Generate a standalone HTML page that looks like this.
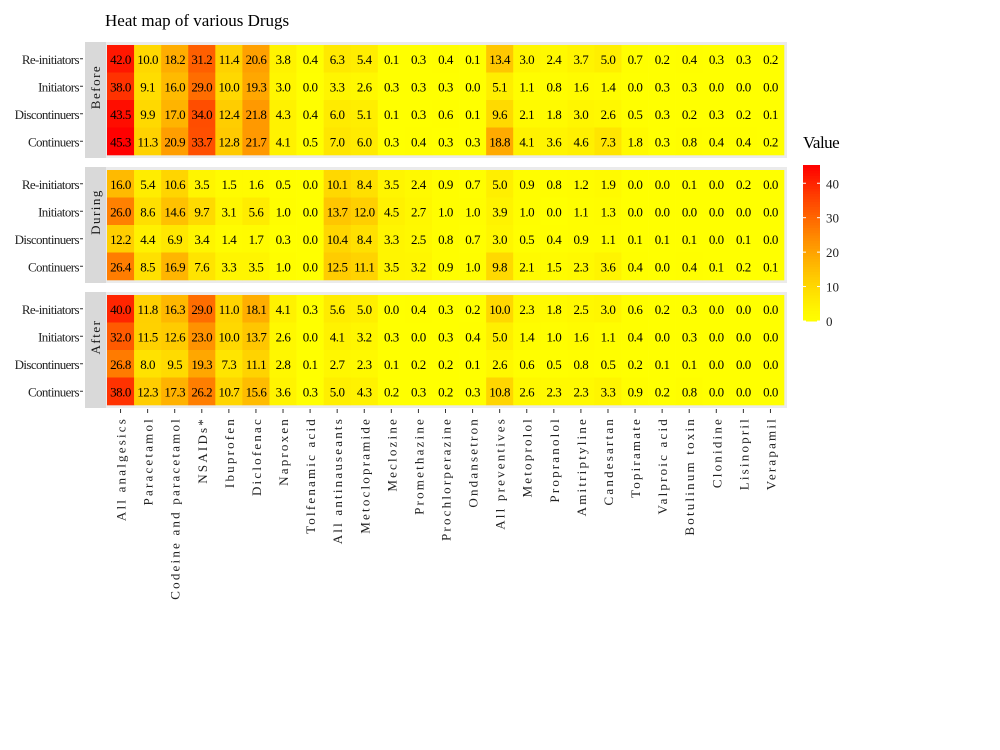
<!DOCTYPE html>
<html><head><meta charset="utf-8"><style>
body{margin:0;background:#fff;}
svg{display:block;font-family:"Liberation Serif","DejaVu Serif",serif;}
</style></head><body>
<svg id="chart" width="1000" height="750"></svg>
<script>
const drugs=["All analgesics","Paracetamol","Codeine and paracetamol","NSAIDs*","Ibuprofen","Diclofenac","Naproxen","Tolfenamic acid","All antinauseants","Metoclopramide","Meclozine","Promethazine","Prochlorperazine","Ondansetron","All preventives","Metoprolol","Propranolol","Amitriptyline","Candesartan","Topiramate","Valproic acid","Botulinum toxin","Clonidine","Lisinopril","Verapamil"];
const groups=["Re-initiators","Initiators","Discontinuers","Continuers"];
const periods=["Before","During","After"];
const before=[
[42.0,10.0,18.2,31.2,11.4,20.6,3.8,0.4,6.3,5.4,0.1,0.3,0.4,0.1,13.4,3.0,2.4,3.7,5.0,0.7,0.2,0.4,0.3,0.3,0.2],
[38.0,9.1,16.0,29.0,10.0,19.3,3.0,0.0,3.3,2.6,0.3,0.3,0.3,0.0,5.1,1.1,0.8,1.6,1.4,0.0,0.3,0.3,0.0,0.0,0.0],
[43.5,9.9,17.0,34.0,12.4,21.8,4.3,0.4,6.0,5.1,0.1,0.3,0.6,0.1,9.6,2.1,1.8,3.0,2.6,0.5,0.3,0.2,0.3,0.2,0.1],
[45.3,11.3,20.9,33.7,12.8,21.7,4.1,0.5,7.0,6.0,0.3,0.4,0.3,0.3,18.8,4.1,3.6,4.6,7.3,1.8,0.3,0.8,0.4,0.4,0.2]];
const during=[
[16.0,5.4,10.6,3.5,1.5,1.6,0.5,0.0,10.1,8.4,3.5,2.4,0.9,0.7,5.0,0.9,0.8,1.2,1.9,0.0,0.0,0.1,0.0,0.2,0.0],
[26.0,8.6,14.6,9.7,3.1,5.6,1.0,0.0,13.7,12.0,4.5,2.7,1.0,1.0,3.9,1.0,0.0,1.1,1.3,0.0,0.0,0.0,0.0,0.0,0.0],
[12.2,4.4,6.9,3.4,1.4,1.7,0.3,0.0,10.4,8.4,3.3,2.5,0.8,0.7,3.0,0.5,0.4,0.9,1.1,0.1,0.1,0.1,0.0,0.1,0.0],
[26.4,8.5,16.9,7.6,3.3,3.5,1.0,0.0,12.5,11.1,3.5,3.2,0.9,1.0,9.8,2.1,1.5,2.3,3.6,0.4,0.0,0.4,0.1,0.2,0.1]];
const after=[
[40.0,11.8,16.3,29.0,11.0,18.1,4.1,0.3,5.6,5.0,0.0,0.4,0.3,0.2,10.0,2.3,1.8,2.5,3.0,0.6,0.2,0.3,0.0,0.0,0.0],
[32.0,11.5,12.6,23.0,10.0,13.7,2.6,0.0,4.1,3.2,0.3,0.0,0.3,0.4,5.0,1.4,1.0,1.6,1.1,0.4,0.0,0.3,0.0,0.0,0.0],
[26.8,8.0,9.5,19.3,7.3,11.1,2.8,0.1,2.7,2.3,0.1,0.2,0.2,0.1,2.6,0.6,0.5,0.8,0.5,0.2,0.1,0.1,0.0,0.0,0.0],
[38.0,12.3,17.3,26.2,10.7,15.6,3.6,0.3,5.0,4.3,0.2,0.3,0.2,0.3,10.8,2.6,2.3,2.3,3.3,0.9,0.2,0.8,0.0,0.0,0.0]];
const legendTicks=[0,10,20,30,40];

const NS="http://www.w3.org/2000/svg";
const svg=document.getElementById('chart');
function mk(t,a,p){const e=document.createElementNS(NS,t);for(const k in a)e.setAttribute(k,a[k]);(p||svg).appendChild(e);return e;}
const X0=107,X1=784,cw=(X1-X0)/drugs.length;
const panelTops=[45,170,295],rh=27.5;
const vmin=0,vmax=45.3;
function xPos(i){return X0+i*cw;}
function yPos(p,r){return panelTops[p]+r*rh;}
function color(v){let t=Math.max(0,Math.min(1,(v-vmin)/(vmax-vmin)));const g=Math.round(255*(1-Math.pow(t,1.25)));return `rgb(255,${g},0)`;}

const title=mk('text',{x:105,y:26,'font-size':17,fill:'#000'});
title.textContent='Heat map of various Drugs';



const datasets=[before,during,after];
datasets.forEach((data,p)=>{
  const g=mk('g',{});
  
  
  const bg=mk('rect',{x:X0-3,y:panelTops[p]-3,width:X1-X0+6,height:rh*4+6,fill:'#ebebeb'},g);
  
  
  const strip=mk('rect',{x:85,y:panelTops[p]-3,width:21,height:rh*4+6,fill:'#d9d9d9'},g);
  
  
  const st=mk('text',{x:0,y:0,'font-size':13,'letter-spacing':'1.5',fill:'#1a1a1a','text-anchor':'middle',transform:`translate(100,${panelTops[p]+42}) rotate(-90)`},g);
  st.textContent=periods[p];
  
  
  data.forEach((row,r)=>{
    const yl=mk('text',{x:79,y:yPos(p,r)+rh/2+5,'font-size':13,'text-anchor':'end',fill:'#222','letter-spacing':'-0.6'},g);
    yl.textContent=groups[r];
    
    
    const tk=mk('line',{x1:80,x2:83,y1:yPos(p,r)+rh/2,y2:yPos(p,r)+rh/2,stroke:'#333'},g);
    
    
    row.forEach((v,i)=>{
      const c=mk('rect',{x:xPos(i),y:yPos(p,r),width:cw+0.3,height:rh+0.3,fill:color(v)},g);
      
      
      const t=mk('text',{x:xPos(i)+cw/2,y:yPos(p,r)+rh/2+5,'font-size':13,'text-anchor':'middle',fill:'#000','letter-spacing':'-0.5'},g);
      t.textContent=v.toFixed(1);
      
      
    });
  });
});
drugs.forEach((d,i)=>{
  const cx=xPos(i)+cw/2;
  const tk=mk('line',{x1:cx,x2:cx,y1:409,y2:413,stroke:'#333'});
  
  
  const t=mk('text',{x:0,y:0,'font-size':13,'text-anchor':'end','letter-spacing':'2.2',fill:'#222',transform:`translate(${cx+5},417) rotate(-90)`});
  t.textContent=d;
  
  
});
// legend
const lg=mk('g',{});


const lt=mk('text',{x:803,y:148,'font-size':17,fill:'#000','letter-spacing':'-0.5'},lg);
lt.textContent='Value';


const LB=321,LT=165;
function ly(v){return LB-(v-vmin)/(vmax-vmin)*(LB-LT);}
for(let k=0;k<60;k++){
  const v0=vmin+(vmax-vmin)*k/60,v1=vmin+(vmax-vmin)*(k+1)/60;
  const s=mk('rect',{x:803,y:ly(v1),width:17,height:ly(v0)-ly(v1)+0.5,fill:color((v0+v1)/2)},lg);
  
  
}
legendTicks.forEach(v=>{
  const y=ly(v);
  const a=mk('line',{x1:803,x2:806,y1:y,y2:y,stroke:'#fff'},lg);
  
  
  const b=mk('line',{x1:817,x2:820,y1:y,y2:y,stroke:'#fff'},lg);
  
  
  const t=mk('text',{x:826,y:y+5,'font-size':13,fill:'#222'},lg);
  t.textContent=v;
  
  
});
</script>
</body></html>
